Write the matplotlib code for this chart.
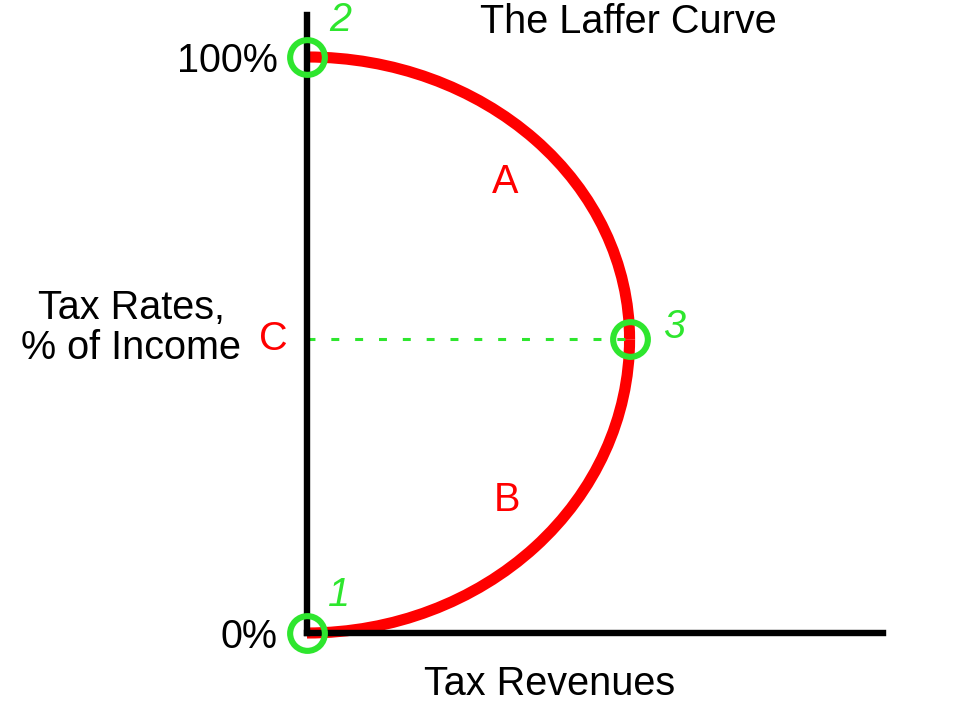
import matplotlib
matplotlib.use("Agg")
import matplotlib.pyplot as plt
from matplotlib.patches import Arc

plt.rcParams['font.family'] = ['Liberation Sans', 'DejaVu Sans']

# ---- data ----
peak_rate = 51.0        # tax rate (%) at which revenue peaks (point 3 / C)
peak_revenue = 56.0     # revenue at the peak (axis units 0-100)
rate_ticks = [0, 100]
rate_tick_labels = ['0%', '100%']
point_labels = ['1', '2', '3']
point_x = [0, 0, peak_revenue]
point_y = [0, 100, peak_rate]
region_labels = ['A', 'B']
region_x = [34.4, 34.7]
region_y = [78.3, 23.1]

RED = '#ff0000'
GREEN = '#2ee62e'
W, H = 962, 718
FS = 28.5

fig = plt.figure(figsize=(W / 100, H / 100), dpi=100)
ax = fig.add_axes([307 / W, 85 / H, 576 / W, 618 / H])
ax.set_xlim(0, 100)
ax.set_ylim(0, 100 * 618 / 576)

for s in ['top', 'right']:
    ax.spines[s].set_visible(False)
for s in ['left', 'bottom']:
    ax.spines[s].set_linewidth(4.6)
    ax.spines[s].set_color('black')
    ax.spines[s].set_zorder(3)

ax.set_xticks([])
ax.set_yticks(rate_ticks)
ax.set_yticklabels(rate_tick_labels)
ax.tick_params(axis='y', length=0, pad=21, labelsize=FS)

# Laffer curve: upper and lower quarter ellipses
upper = Arc((0, peak_rate), 2 * peak_revenue, 2 * (100 - peak_rate),
            theta1=0, theta2=90, color=RED, lw=8, zorder=2, clip_on=False)
lower = Arc((0, peak_rate), 2 * peak_revenue, 2 * peak_rate,
            theta1=270, theta2=360, color=RED, lw=8, zorder=2, clip_on=False)
ax.add_patch(upper)
ax.add_patch(lower)

# dashed line to peak
ax.plot([0, peak_revenue], [peak_rate, peak_rate], color=GREEN, lw=2.2,
        ls=(0, (2.6, 5.2)), zorder=2.5, clip_on=False)

# green circles
ax.plot(point_x, point_y, ls='none', marker='o', ms=25, mfc='none',
        mec=GREEN, mew=4.4, zorder=5, clip_on=False)

offsets = [(23, 27), (24, 27), (32, 9)]
for lab, x, y, off in zip(point_labels, point_x, point_y, offsets):
    ax.annotate(lab, xy=(x, y), xytext=off, textcoords='offset points',
                ha='center', va='center', fontsize=FS, style='italic',
                color=GREEN, annotation_clip=False)

for lab, x, y in zip(region_labels, region_x, region_y):
    ax.text(x, y, lab, ha='center', va='center', fontsize=FS, color=RED)

ax.annotate('C', xy=(0, peak_rate), xytext=(-24, 0), textcoords='offset points',
            ha='center', va='center', fontsize=FS, color=RED, annotation_clip=False)

fig.text(628 / W, 1 - 22 / H, 'The Laffer Curve', ha='center', va='center', fontsize=FS)
fig.text(550 / W, 1 - 684 / H, 'Tax Revenues', ha='center', va='center', fontsize=FS)
fig.text(131 / W, 1 - 328 / H, 'Tax Rates,\n% of Income', ha='center', va='center',
         fontsize=FS, linespacing=1.05)

fig.savefig('out.png', dpi=100)
